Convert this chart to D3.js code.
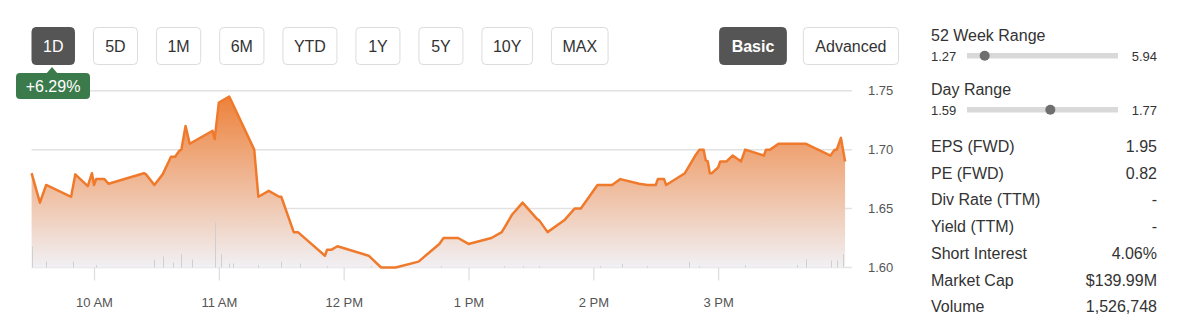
<!DOCTYPE html>
<html>
<head>
<meta charset="utf-8">
<script src="https://cdn.jsdelivr.net/npm/d3@7"></script>
<style>
	body { margin: 0; background: #fff; font-family: "Liberation Sans", Arial, sans-serif; }
	svg text { font-family: "Liberation Sans", Arial, sans-serif; }
</style>
</head>
<body>
<svg id="chart" width="1186" height="332"></svg>
<script>
//------------------ DATA -------------------
var times = ['9:30','9:34','9:37','9:49','9:51','9:57','9:59','10:00','10:01','10:05','10:07','10:24','10:25','10:29','10:33','10:37','10:39','10:41','10:42','10:44','10:46','10:57','10:58','11:00','11:05','11:17','11:19','11:24','11:29','11:30','11:36','11:38','11:51','11:52','11:54','11:57','12:12','12:18','12:25','12:36','12:41','12:46','12:48','12:55','13:00','13:11','13:16','13:21','13:26','13:33','13:34','13:38','13:46','13:51','13:54','14:02','14:09','14:13','14:22','14:26','14:30','14:31','14:34','14:35','14:44','14:49','14:51','14:53','14:54','14:55','14:56','14:57','15:00','15:01','15:04','15:07','15:11','15:13','15:22','15:23','15:25','15:29','15:42','15:54','15:56','15:57','15:59','16:01'];
var prices = [1.680,1.655,1.670,1.660,1.679,1.669,1.680,1.670,1.675,1.675,1.671,1.680,1.679,1.670,1.679,1.694,1.694,1.699,1.700,1.720,1.705,1.716,1.709,1.740,1.745,1.700,1.660,1.665,1.660,1.660,1.630,1.630,1.610,1.615,1.615,1.618,1.610,1.600,1.600,1.605,1.6125,1.620,1.625,1.625,1.620,1.625,1.630,1.645,1.655,1.641,1.640,1.630,1.640,1.650,1.650,1.670,1.670,1.675,1.671,1.670,1.670,1.675,1.675,1.670,1.680,1.695,1.700,1.700,1.691,1.690,1.680,1.680,1.685,1.690,1.690,1.695,1.690,1.700,1.695,1.700,1.700,1.705,1.705,1.695,1.700,1.700,1.710,1.690];

var volTimes = ['9:30','9:37','9:50','10:01','10:29','10:33','10:38','10:42','10:47','10:58','11:01','11:05','11:07','11:19','11:30','11:39','11:52','12:13','12:47','13:17','13:26','13:34','14:03','14:14','14:26','14:46','14:51','15:13','15:38','15:42','15:54','15:57','16:00'];
var volumes = [21000,6000,6000,2300,8000,11000,5000,13300,8000,45000,13300,4000,4000,2300,5700,4000,1500,1500,1500,1500,1500,1500,1500,3300,1500,5700,1500,2300,2300,8300,7000,7000,13300];

var yTicks = [1.60, 1.65, 1.70, 1.75];
var xTickTimes = ['10:00','11:00','12:00','13:00','14:00','15:00'];

var rangeButtons = ['1D','5D','1M','6M','YTD','1Y','5Y','10Y','MAX'];
var viewButtons = ['Basic','Advanced'];
var changePct = '+6.29%';

var ranges = [
	{name: '52 Week Range', low: 1.27, high: 5.94},
	{name: 'Day Range', low: 1.59, high: 1.77}
];
var lastPrice = 1.69;

var statLabels = ['EPS (FWD)','PE (FWD)','Div Rate (TTM)','Yield (TTM)','Short Interest','Market Cap','Volume'];
var statValues = ['1.95','0.82','-','-','4.06%','$139.99M','1,526,748'];

//------------------ SCALES -------------------
var parseTime = d3.timeParse('%H:%M');
var svg = d3.select('#chart');

var xScale = d3.scaleTime()
	.domain([parseTime('9:30'), parseTime('16:00')])
	.range([31.6, 843]);

var yScale = d3.scaleLinear()
	.domain([1.60, 1.75])
	.range([267.5, 90.7]);

var volScale = d3.scaleLinear()
	.domain([0, 50000])
	.range([0, 50]);

var gridRight = 852;

var series = times.map(function (t, i) { return {t: parseTime(t), p: prices[i]}; });
var volData = volTimes.map(function (t, i) { return {t: parseTime(t), v: volumes[i]}; });

// gradient for the area
var defs = svg.append('defs');
var grad = defs.append('linearGradient')
	.attr('id', 'areaGrad')
	.attr('gradientUnits', 'userSpaceOnUse')
	.attr('x1', 0).attr('x2', 0)
	.attr('y1', yScale(1.75)).attr('y2', yScale(1.60));
grad.append('stop').attr('offset', '0%').attr('stop-color', '#ed7e35');
grad.append('stop').attr('offset', '100%').attr('stop-color', '#f1f0f4');

// gridlines
svg.append('g').selectAll('line').data(yTicks).enter().append('line')
	.attr('x1', xScale.range()[0])
	.attr('x2', gridRight)
	.attr('y1', function (d) { return yScale(d); })
	.attr('y2', function (d) { return yScale(d); })
	.attr('stroke', '#e2e2e2')
	.attr('stroke-width', 1.5);

// area + line
var area = d3.area()
	.x(function (d) { return xScale(d.t); })
	.y0(yScale(1.60))
	.y1(function (d) { return yScale(d.p); });

var line = d3.line()
	.x(function (d) { return xScale(d.t); })
	.y(function (d) { return yScale(d.p); });

svg.append('path')
	.datum(series)
	.attr('d', area)
	.attr('fill', 'url(#areaGrad)');

// volume bars
svg.append('g').selectAll('line').data(volData).enter().append('line')
	.attr('x1', function (d) { return Math.round(xScale(d.t)) + 0.5; })
	.attr('x2', function (d) { return Math.round(xScale(d.t)) + 0.5; })
	.attr('y1', yScale(1.60))
	.attr('y2', function (d) { return yScale(1.60) - volScale(d.v); })
	.attr('stroke', '#cfcfcf')
	.attr('stroke-width', 1);

svg.append('path')
	.datum(series)
	.attr('d', line)
	.attr('fill', 'none')
	.attr('stroke', '#f07a2c')
	.attr('stroke-width', 2.5)
	.attr('stroke-linejoin', 'round');

// x axis
var xAxis = d3.axisBottom(xScale)
	.tickValues(xTickTimes.map(parseTime))
	.tickFormat(d3.timeFormat('%-I %p'))
	.tickSize(13)
	.tickPadding(17);

var gx = svg.append('g')
	.attr('transform', 'translate(0,' + yScale(1.60) + ')')
	.call(xAxis);
gx.select('.domain').remove();
gx.selectAll('line').attr('stroke', '#dcdcdc').attr('stroke-width', 1.2);
gx.selectAll('text').attr('fill', '#555').style('font-size', '13px');

// y axis labels
var yAxis = d3.axisRight(yScale)
	.tickValues(yTicks)
	.tickFormat(d3.format('.2f'))
	.tickSize(0)
	.tickPadding(16);

var gy = svg.append('g')
	.attr('transform', 'translate(' + gridRight + ',0)')
	.call(yAxis);
gy.select('.domain').remove();
gy.selectAll('text').attr('fill', '#555').style('font-size', '13px');

//------------------ BUTTONS -------------------
function drawButton (x, y, label, active, bold, minW, pad) {
	var g = svg.append('g');
	var t = g.append('text')
		.attr('y', y + 24)
		.style('font-size', '16px')
		.style('font-weight', bold ? 'bold' : 'normal')
		.attr('fill', active ? '#fff' : '#333')
		.attr('text-anchor', 'middle')
		.text(label);
	var w = Math.max(minW, t.node().getComputedTextLength() + pad * 2);
	g.insert('rect', 'text')
		.attr('x', x).attr('y', y)
		.attr('width', w).attr('height', 37)
		.attr('rx', 4)
		.attr('fill', active ? '#555' : '#fff')
		.attr('stroke', active ? '#555' : '#dcdcdc');
	t.attr('x', x + w / 2);
	return w;
}

var bx = 32;
rangeButtons.forEach(function (b, i) {
	var w = drawButton(bx, 27.5, b, i == 0, false, i == 0 ? 41.5 : 44, 11);
	bx += w + 19;
});

// basic / advanced, laid out from the right edge
var vx = 898.5;
var widths = viewButtons.map(function (b, i) {
	var tmp = svg.append('text').style('font-size', '16px')
		.style('font-weight', i == 0 ? 'bold' : 'normal').text(b);
	var w = tmp.node().getComputedTextLength() + 24;
	tmp.remove();
	return w;
});
var startX = vx - widths[1] - 17 - widths[0];
drawButton(startX, 27.5, viewButtons[0], true, true, 0, 12);
drawButton(startX + widths[0] + 17, 27.5, viewButtons[1], false, false, 0, 12);

// change badge under 1D
var badge = svg.append('g');
badge.append('path')
	.attr('d', 'M46,74 L52,67 L58,74 Z')
	.attr('fill', '#3b7b4b');
badge.append('rect')
	.attr('x', 16).attr('y', 73)
	.attr('width', 74).attr('height', 26)
	.attr('rx', 4)
	.attr('fill', '#3b7b4b');
badge.append('text')
	.attr('x', 53).attr('y', 92)
	.attr('text-anchor', 'middle')
	.attr('fill', '#fff')
	.style('font-size', '16px')
	.text(changePct);

//------------------ RIGHT PANEL -------------------
var panelX = 931;
var panelR = 1157;

ranges.forEach(function (r, i) {
	var top = 41 + i * 54;
	var rs = d3.scaleLinear().domain([r.low, r.high]).range([972, 1113]);
	svg.append('text')
		.attr('x', panelX).attr('y', top)
		.attr('fill', '#333')
		.style('font-size', '16px')
		.text(r.name);
	svg.append('text')
		.attr('x', panelX).attr('y', top + 19.5)
		.attr('fill', '#333')
		.style('font-size', '13px')
		.text(r.low.toFixed(2));
	svg.append('text')
		.attr('x', panelR).attr('y', top + 19.5)
		.attr('text-anchor', 'end')
		.attr('fill', '#333')
		.style('font-size', '13px')
		.text(r.high.toFixed(2));
	svg.append('rect')
		.attr('x', 967).attr('y', top + 12)
		.attr('width', 151).attr('height', 5.5)
		.attr('fill', '#d9d9d9');
	svg.append('circle')
		.attr('cx', rs(lastPrice)).attr('cy', top + 14.8)
		.attr('r', 5)
		.attr('fill', '#6f6f6f');
});

statLabels.forEach(function (s, i) {
	var y = 152 + i * 26.7;
	svg.append('text')
		.attr('x', panelX).attr('y', y)
		.attr('fill', '#333')
		.style('font-size', '16px')
		.text(s);
	svg.append('text')
		.attr('x', panelR).attr('y', y)
		.attr('text-anchor', 'end')
		.attr('fill', '#333')
		.style('font-size', '16px')
		.text(statValues[i]);
});
</script>
</body>
</html>
